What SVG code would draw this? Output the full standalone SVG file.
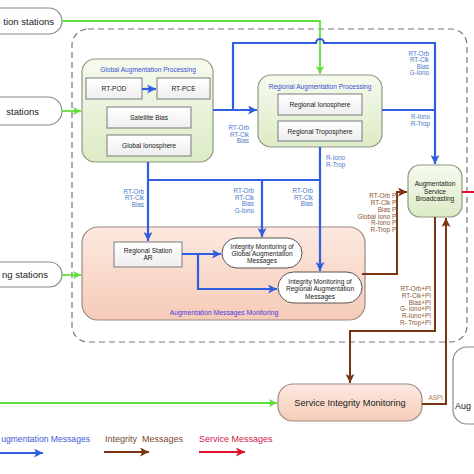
<svg xmlns="http://www.w3.org/2000/svg" width="474" height="474" viewBox="0 0 474 474">
<defs>
<linearGradient id="gGreen" x1="0" y1="0" x2="0" y2="1"><stop offset="0" stop-color="#f6faee"/><stop offset="1" stop-color="#dcebc6"/></linearGradient>
<linearGradient id="gPink" x1="0" y1="0" x2="0" y2="1"><stop offset="0" stop-color="#fce9e0"/><stop offset="1" stop-color="#f6cbb8"/></linearGradient>
<linearGradient id="gBox" x1="0" y1="0" x2="0" y2="1"><stop offset="0" stop-color="#ffffff"/><stop offset="1" stop-color="#eeeeee"/></linearGradient>
<marker id="aBlue" viewBox="0 0 10 10" refX="10" refY="5" markerWidth="9" markerHeight="9" markerUnits="userSpaceOnUse" orient="auto"><path d="M0,0 L10,5 L0,10 L2.5,5 z" fill="#2f5fe0"/></marker>
<marker id="aGreen" viewBox="0 0 10 10" refX="10" refY="5" markerWidth="8" markerHeight="8" markerUnits="userSpaceOnUse" orient="auto"><path d="M0,0 L10,5 L0,10 L2.5,5 z" fill="#5ee03a"/></marker>
<marker id="aBrown" viewBox="0 0 10 10" refX="10" refY="5" markerWidth="9" markerHeight="9" markerUnits="userSpaceOnUse" orient="auto"><path d="M0,0 L10,5 L0,10 L2.5,5 z" fill="#7a3412"/></marker>
<marker id="aRed" viewBox="0 0 10 10" refX="10" refY="5" markerWidth="9" markerHeight="9" markerUnits="userSpaceOnUse" orient="auto"><path d="M0,0 L10,5 L0,10 L2.5,5 z" fill="#e0102e"/></marker>
</defs>
<style>
text{font-family:"Liberation Sans",Arial,sans-serif;}
.pill{fill:#ffffff;stroke:#8a8a8a;stroke-width:1.2;}
.grn{fill:url(#gGreen);stroke:#8c9a80;stroke-width:1.2;}
.pnk{fill:url(#gPink);stroke:#9a8a84;stroke-width:1.2;}
.ibox{fill:url(#gBox);stroke:#7a7a7a;stroke-width:1;}
.im{fill:#ffffff;stroke:#555555;stroke-width:1;}
.big{font-size:9.5px;fill:#222;}
.ttl{font-size:6.6px;fill:#3b4fd6;text-anchor:middle;}
.t{font-size:6.6px;fill:#222;text-anchor:middle;}
.bl{font-size:6.3px;fill:#4a78cc;text-anchor:end;}
.bll{font-size:6.3px;fill:#4a78cc;}
.br{font-size:6.4px;fill:#8a5636;text-anchor:end;}
.cb{fill:none;stroke:#2f5fe0;stroke-width:2.2;}
.cg{fill:none;stroke:#5ee03a;stroke-width:1.8;}
.cr{fill:none;stroke:#7a3412;stroke-width:2;}
.cred{fill:none;stroke:#e0102e;stroke-width:2;}
</style>

<rect x="72" y="29" width="395" height="313" rx="16" fill="none" stroke="#777" stroke-width="1.2" stroke-dasharray="6,4"/>

<g id="station1"><rect class="pill" x="-30" y="8" width="92" height="26" rx="13"/><text class="big" x="54" y="24.5" text-anchor="end">tion stations</text></g>
<g id="station2"><rect class="pill" x="-30" y="97" width="92" height="28" rx="14"/><text class="big" x="39" y="114.5" text-anchor="end">stations</text></g>
<g id="station3"><rect class="pill" x="-30" y="262" width="92" height="25" rx="12.5"/><text class="big" x="48" y="278" text-anchor="end">ng stations</text></g>

<g id="global">
<rect class="grn" x="82" y="59" width="131" height="103" rx="13"/>
<text class="ttl" x="148" y="71.5">Global Augmentation Processing</text>
<rect class="ibox" x="86" y="78" width="56" height="21"/><text class="t" x="114" y="91">RT-POD</text>
<rect class="ibox" x="157" y="78" width="53" height="21"/><text class="t" x="183.5" y="91">RT-PCE</text>
<rect class="ibox" x="107" y="107" width="84" height="21"/><text class="t" x="149" y="120">Satellite Bias</text>
<rect class="ibox" x="107" y="135" width="84" height="21"/><text class="t" x="149" y="148">Global Ionosphere</text>
</g>

<g id="regional">
<rect class="grn" x="258" y="75" width="124" height="72" rx="13"/>
<text class="ttl" x="320" y="88.5">Regional Augmentation Processing</text>
<rect class="ibox" x="278" y="94" width="84" height="21"/><text class="t" x="320" y="107">Regional Ionosphere</text>
<rect class="ibox" x="278" y="121" width="84" height="20"/><text class="t" x="320" y="133.5">Regional Troposphere</text>
</g>

<g id="monitoring">
<rect class="pnk" x="82" y="227" width="283" height="93" rx="16"/>
<text x="224" y="314.5" style="font-size:6.8px;fill:#4a3ae0;text-anchor:middle">Augmentation Messages Monitoring</text>
</g>
<g id="ar"><rect class="ibox" x="114" y="242" width="68" height="25"/><text class="t" x="148" y="253">Regional Station</text><text class="t" x="148" y="260">AR</text></g>
<g id="img"><rect class="im" x="222" y="238" width="80" height="30" rx="15"/><text class="t" x="262" y="249">Integrity Monitoring of</text><text class="t" x="262" y="256">Global Augmentation</text><text class="t" x="262" y="263">Messages</text></g>
<g id="imr"><rect class="im" x="278" y="272" width="84" height="31" rx="15.5"/><text class="t" x="320" y="284">Integrity Monitoring of</text><text class="t" x="320" y="291">Regional Augmentation</text><text class="t" x="320" y="298.5">Messages</text></g>

<g id="asb"><rect class="grn" x="408" y="165" width="54" height="52" rx="12"/><text class="t" x="435" y="186">Augmentation</text><text class="t" x="435" y="193.5">Service</text><text class="t" x="435" y="201">Broadcasting</text></g>

<g id="sim"><rect class="pnk" x="278" y="384" width="144" height="37" rx="15"/><text x="350" y="406" style="font-size:9.2px;fill:#222;text-anchor:middle">Service Integrity Monitoring</text></g>

<g id="augbox"><rect class="pill" x="453" y="347" width="60" height="77" rx="14"/><text x="455" y="409" style="font-size:9px;fill:#222">Aug</text></g>

<g id="connectors">
<path class="cg" d="M62,21 H320 V74" marker-end="url(#aGreen)"/>
<path class="cg" d="M62,111 H81" marker-end="url(#aGreen)"/>
<path class="cg" d="M62,275 H81" marker-end="url(#aGreen)"/>
<path class="cg" d="M0,403 H277" marker-end="url(#aGreen)"/>

<path class="cb" d="M142,89 H156" marker-end="url(#aBlue)"/>
<path class="cb" d="M213,110 H257" marker-end="url(#aBlue)"/>
<path class="cb" d="M233,110 V43 H316 A4,4 0 0 1 324,43 H435 V164" marker-end="url(#aBlue)"/>
<path class="cb" d="M382,110 H435"/>
<path class="cb" d="M148,162 V241" marker-end="url(#aBlue)"/>
<path class="cb" d="M148,180 H320"/>
<path class="cb" d="M262,180 V237" marker-end="url(#aBlue)"/>
<path class="cb" d="M320,147 V271" marker-end="url(#aBlue)"/>
<path class="cb" d="M182,254 H221" marker-end="url(#aBlue)"/>
<path class="cb" d="M198,254 V289 H277" marker-end="url(#aBlue)"/>

<path class="cr" d="M362,274 H397 V192 H407" marker-end="url(#aBrown)"/>
<path class="cr" d="M435,217 V331 H350 V383" marker-end="url(#aBrown)"/>
<path class="cr" d="M422,404 H446 V218" marker-end="url(#aBrown)"/>
<path class="cred" d="M462,192 H474"/>

<g class="lbl">
<text class="bl" x="429" y="55.5">RT-Orb</text><text class="bl" x="429" y="62">RT-Clk</text><text class="bl" x="429" y="68.5">Bias</text><text class="bl" x="429" y="75">G-Iono</text>
<text class="bl" x="249" y="130">RT-Orb</text><text class="bl" x="249" y="136.5">RT-Clk</text><text class="bl" x="249" y="143">Bias</text>
<text class="bl" x="430" y="119">R-Iono</text><text class="bl" x="430" y="125.5">R-Trop</text>
<text class="bll" x="326" y="160">R-Iono</text><text class="bll" x="326" y="166.5">R-Trop</text>
<text class="bl" x="144" y="193.5">RT-Orb</text><text class="bl" x="144" y="200">RT-Clk</text><text class="bl" x="144" y="206.5">Bias</text>
<text class="bl" x="254" y="193">RT-Orb</text><text class="bl" x="254" y="199.5">RT-Clk</text><text class="bl" x="254" y="206">Bias</text><text class="bl" x="254" y="212.5">G-Iono</text>
<text class="bl" x="313" y="193">RT-Orb</text><text class="bl" x="313" y="199.5">RT-Clk</text><text class="bl" x="313" y="206">Bias</text>
<text class="br" x="398" y="198">RT-Orb PI</text><text class="br" x="398" y="205">RT-Clk PI</text><text class="br" x="398" y="211.5">Bias PI</text><text class="br" x="398" y="218.5">Global Iono PI</text><text class="br" x="398" y="225">R-Iono PI</text><text class="br" x="398" y="232">R-Trop PI</text>
<text class="br" x="431" y="291">RT-Orb+PI</text><text class="br" x="431" y="297.5">RT-Clk+PI</text><text class="br" x="431" y="304.5">Bias+PI</text><text class="br" x="431" y="311">G- Iono+PI</text><text class="br" x="431" y="318">R-Iono+PI</text><text class="br" x="431" y="324.5">R- Trop+PI</text>
<text class="br" x="443" y="400" style="fill:#b07a50">ASPI</text>
</g>
</g>

<g id="legend">
<text x="90" y="442" style="font-size:8.6px;fill:#3b5bd6;text-anchor:end">ugmentation Messages</text>
<path class="cb" d="M0,453 H43" marker-end="url(#aBlue)"/>
<text x="105" y="442" style="font-size:9px;fill:#7a4a2a" xml:space="preserve">Integrity  Messages</text>
<path class="cr" d="M104,452 H149" marker-end="url(#aBrown)"/>
<text x="199" y="442" style="font-size:9px;fill:#d0204a">Service Messages</text>
<path class="cred" d="M199,452 H245" marker-end="url(#aRed)"/>
</g>
</svg>
